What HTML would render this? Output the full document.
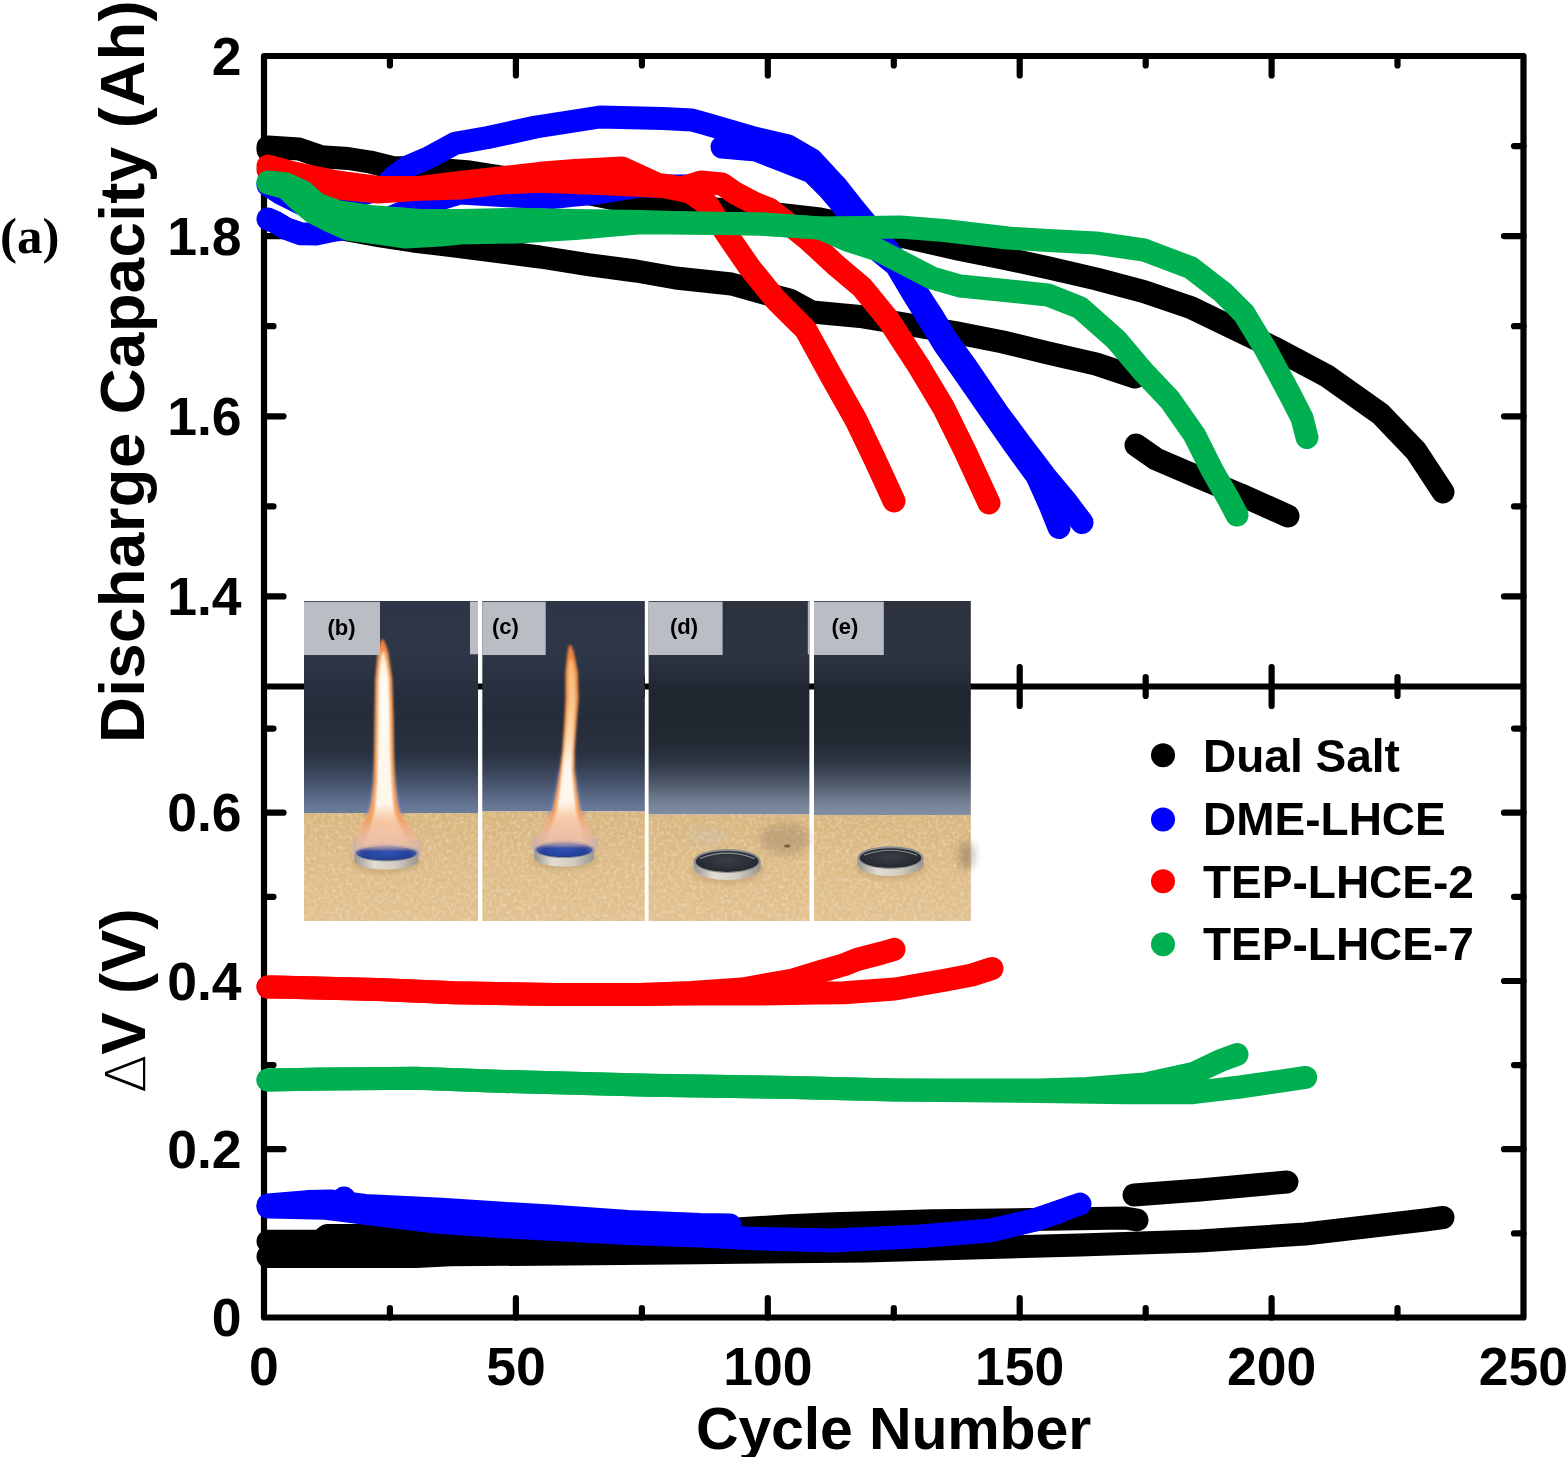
<!DOCTYPE html>
<html><head><meta charset="utf-8"><title>Discharge capacity and voltage hysteresis</title>
<style>
html,body{margin:0;padding:0;background:#fff;}
body{width:1567px;height:1457px;overflow:hidden;}
svg{display:block;}
.t{font-family:"Liberation Sans",Arial,sans-serif;font-weight:700;fill:#000;}
</style></head><body>
<svg width="1567" height="1457" viewBox="0 0 1567 1457">
<rect width="1567" height="1457" fill="#fff"/>

<rect x="264" y="56" width="1259.5" height="1261.5" fill="none" stroke="#000" stroke-width="6.2" stroke-linejoin="round"/>
<line x1="264" y1="686.5" x2="1523.5" y2="686.5" stroke="#000" stroke-width="6.2"/>
<path d="M389.9,1317.5v-9.5M389.9,56v9.5M389.9,677.0V696.0M515.9,1317.5v-19.5M515.9,56v19.5M515.9,667.0V706.0M641.9,1317.5v-9.5M641.9,56v9.5M641.9,677.0V696.0M767.8,1317.5v-19.5M767.8,56v19.5M767.8,667.0V706.0M893.8,1317.5v-9.5M893.8,56v9.5M893.8,677.0V696.0M1019.7,1317.5v-19.5M1019.7,56v19.5M1019.7,667.0V706.0M1145.7,1317.5v-9.5M1145.7,56v9.5M1145.7,677.0V696.0M1271.6,1317.5v-19.5M1271.6,56v19.5M1271.6,667.0V706.0M1397.5,1317.5v-9.5M1397.5,56v9.5M1397.5,677.0V696.0M264,146.1h9.5M1523.5,146.1h-9.5M264,236.1h19.5M1523.5,236.1h-19.5M264,326.2h9.5M1523.5,326.2h-9.5M264,416.3h19.5M1523.5,416.3h-19.5M264,506.4h9.5M1523.5,506.4h-9.5M264,596.4h19.5M1523.5,596.4h-19.5M264,1233.4h9.5M1523.5,1233.4h-9.5M264,1149.2h19.5M1523.5,1149.2h-19.5M264,1065.1h9.5M1523.5,1065.1h-9.5M264,981.0h19.5M1523.5,981.0h-19.5M264,896.8h9.5M1523.5,896.8h-9.5M264,812.7h19.5M1523.5,812.7h-19.5M264,728.6h9.5M1523.5,728.6h-9.5" stroke="#000" stroke-width="6.2" stroke-linecap="round" fill="none"/>
<g fill="none" stroke="#000000" stroke-width="23" stroke-linecap="round" stroke-linejoin="round">
<polyline points="268.0,147.0 299.0,149.0 321.0,156.7 348.0,158.5 370.0,162.0 392.0,167.5 420.0,168.0 445.0,170.0 470.0,172.0 520.0,180.0 580.0,192.0 640.0,204.0 700.0,208.0 760.0,212.0 820.0,219.0 860.0,227.0 905.0,237.0 960.0,249.5 1000.0,257.4 1048.0,267.7 1096.0,278.9 1144.0,291.7 1191.0,307.7 1220.0,321.6 1273.5,347.5 1327.0,376.0 1380.6,414.0 1416.0,451.0 1443.0,492.0"/>
<polyline points="268.0,150.0 290.0,180.0 318.0,212.0 345.0,229.5 380.0,236.0 413.0,241.0 455.0,246.0 540.0,257.0 588.0,264.6 636.0,271.0 675.6,278.0 731.4,284.0 771.0,295.0 790.0,300.0 812.0,312.0 860.0,316.5 907.6,324.5 955.0,332.5 1003.0,342.0 1048.0,353.0 1096.0,364.0 1135.0,377.0"/>
<polyline points="1136.0,445.0 1156.0,459.0 1198.0,477.0 1240.0,494.5 1288.0,516.0"/>
<polyline points="268.0,1256.5 416.0,1256.5 450.0,1254.7 540.0,1254.2 675.0,1253.0 866.0,1251.0 990.0,1247.5 1080.0,1245.0 1140.0,1243.0 1200.0,1241.0 1245.0,1238.0 1305.0,1234.0 1365.0,1227.0 1425.0,1220.0 1443.0,1217.5"/>
<polyline points="268.0,1241.3 320.0,1241.3 327.0,1235.5 400.0,1235.5 412.0,1242.0 500.0,1238.0 600.0,1234.0 700.0,1230.0 740.0,1228.7 789.5,1225.8 833.6,1223.8 933.0,1220.8 1000.0,1220.0 1125.0,1218.0 1137.0,1220.0"/>
<polyline points="1134.0,1195.0 1200.0,1190.0 1287.0,1182.0"/>
</g>
<g fill="none" stroke="#0000ff" stroke-width="23" stroke-linecap="round" stroke-linejoin="round">
<polyline points="268.0,185.0 280.0,193.0 301.0,203.5 322.0,205.0 345.0,198.0 370.0,192.0 385.0,186.0 395.0,176.0 408.0,166.5 428.0,158.0 455.0,143.4 488.0,137.5 536.0,127.0 600.0,117.0 663.0,118.6 692.0,120.0 708.0,124.5 756.0,138.5 788.0,146.0 812.0,160.0 836.0,186.0 851.0,205.0 875.0,234.0 896.0,260.0 914.0,288.0 933.0,317.0 946.0,339.0 965.0,365.0 997.0,412.0 1020.0,443.0 1045.0,476.0 1065.0,500.0 1082.0,522.5"/>
<polyline points="268.0,219.0 276.0,222.5 286.0,228.5 301.0,233.8 316.0,234.0 335.0,230.0 350.0,228.0 375.0,224.0 420.0,205.0 460.0,193.0 517.0,196.3 552.0,197.5 575.0,195.0 598.0,193.0 640.0,186.0 690.0,186.0"/>
<polyline points="722.0,147.0 756.0,150.0 788.0,162.5 812.0,172.0 828.0,188.0 840.0,202.0 860.0,228.0 880.0,252.0 896.0,265.0 912.0,292.0 930.0,321.0 944.0,344.0 961.0,368.0 990.0,410.0 1013.0,443.0 1037.0,476.0 1050.0,505.0 1059.0,527.5"/>
<polyline points="268.0,1207.0 326.0,1208.3 403.0,1218.0 441.5,1222.6 499.0,1226.5 550.0,1229.3 628.0,1233.6 700.0,1236.0 760.0,1239.0 833.0,1241.0 921.0,1236.5 990.0,1231.0 1035.0,1219.8 1080.0,1204.0"/>
<polyline points="268.0,1205.0 307.0,1201.6 330.0,1201.0 365.0,1205.5 441.5,1209.3 499.0,1213.0 550.0,1216.0 628.0,1221.5 700.0,1224.5 730.0,1225.0"/>
<polyline points="742.0,1238.0 833.0,1240.0 921.0,1236.0 990.0,1230.0 1035.0,1220.0 1059.0,1212.0"/>
</g>
<circle cx="344" cy="1198" r="11.5" fill="#0000ff"/>
<g fill="none" stroke="#ff0000" stroke-width="23" stroke-linecap="round" stroke-linejoin="round">
<polyline points="268.0,170.0 300.0,180.0 337.0,188.0 378.0,192.0 420.0,189.3 460.0,188.0 500.0,183.0 540.0,181.3 600.0,183.5 663.0,186.5 690.0,192.0 707.0,204.0 729.0,237.5 750.0,268.0 776.0,300.0 805.5,329.3 831.0,375.6 856.0,420.0 875.0,459.6 894.0,501.0"/>
<polyline points="268.0,166.0 296.0,173.5 337.0,182.0 378.0,187.5 420.0,187.5 460.0,182.5 504.0,177.5 540.0,173.3 575.0,170.5 622.0,168.0 658.0,184.5 682.0,188.0 701.0,182.0 722.0,184.0 735.0,193.0 754.0,203.0 770.0,209.5 790.0,225.0 808.7,240.0 836.5,265.8 862.0,287.2 888.5,319.8 919.6,367.6 943.5,407.5 965.0,451.0 989.0,503.0"/>
<polyline points="268.0,987.0 275.0,987.0 378.0,989.5 454.0,992.8 556.0,994.6 640.0,994.6 691.0,992.5 742.0,989.0 793.0,980.0 819.0,972.0 844.0,964.7 857.0,959.5 882.0,953.0 894.0,949.4"/>
<polyline points="268.0,987.0 275.0,987.0 378.0,989.5 454.0,992.8 556.0,994.6 640.0,994.6 700.0,994.0 760.0,994.0 819.0,993.0 844.0,992.8 895.0,989.0 946.0,980.0 972.0,975.0 992.0,968.5"/>
</g>
<g fill="none" stroke="#00b050" stroke-width="23" stroke-linecap="round" stroke-linejoin="round">
<polyline points="268.0,183.0 286.0,188.0 299.0,200.5 312.5,212.0 330.0,221.0 348.0,229.0 378.0,233.0 406.0,237.0 440.0,235.0 460.0,233.0 517.0,232.0 575.0,228.5 640.0,222.7 690.0,223.0 760.0,224.0 820.0,228.0 847.0,240.0 878.0,250.0 909.0,266.0 932.0,278.0 960.0,286.0 1000.0,290.0 1048.0,295.0 1080.0,307.6 1116.0,339.5 1143.0,371.4 1170.0,400.0 1194.5,435.0 1212.0,470.0 1228.0,498.0 1237.0,515.0"/>
<polyline points="268.0,182.0 286.0,184.0 303.5,192.0 317.0,204.0 339.0,212.0 370.0,216.5 420.0,220.5 460.0,220.5 517.0,219.3 575.0,220.5 640.0,221.5 690.0,223.0 760.0,224.0 820.0,228.0 900.0,227.0 944.0,230.5 1008.0,238.0 1048.0,240.6 1096.0,243.0 1144.0,250.0 1191.0,267.8 1223.0,292.5 1244.0,313.5 1265.5,349.0 1289.6,393.8 1302.0,418.0 1307.0,437.5"/>
<polyline points="268.0,1080.0 326.0,1079.0 416.0,1078.3 505.0,1081.5 650.0,1085.3 793.0,1087.4 895.0,1090.0 1040.0,1090.0 1087.0,1088.5 1145.0,1084.0 1193.0,1073.6 1221.5,1060.2 1237.0,1054.5"/>
<polyline points="268.0,1080.0 326.0,1079.0 416.0,1078.3 505.0,1081.5 650.0,1085.3 793.0,1087.4 895.0,1090.0 1040.0,1091.5 1126.0,1092.7 1193.0,1092.7 1240.0,1087.0 1279.0,1081.3 1305.7,1077.4"/>
</g>
<text class="t" x="264.0" y="1385" font-size="53.5" text-anchor="middle">0</text>
<text class="t" x="515.9" y="1385" font-size="53.5" text-anchor="middle">50</text>
<text class="t" x="767.8" y="1385" font-size="53.5" text-anchor="middle">100</text>
<text class="t" x="1019.7" y="1385" font-size="53.5" text-anchor="middle">150</text>
<text class="t" x="1271.6" y="1385" font-size="53.5" text-anchor="middle">200</text>
<text class="t" x="1523.5" y="1385" font-size="53.5" text-anchor="middle">250</text>
<text class="t" x="241.5" y="74.5" font-size="53.5" text-anchor="end">2</text>
<text class="t" x="241.5" y="254.6" font-size="53.5" text-anchor="end">1.8</text>
<text class="t" x="241.5" y="434.8" font-size="53.5" text-anchor="end">1.6</text>
<text class="t" x="241.5" y="614.9" font-size="53.5" text-anchor="end">1.4</text>
<text class="t" x="241.5" y="831.2" font-size="53.5" text-anchor="end">0.6</text>
<text class="t" x="241.5" y="999.5" font-size="53.5" text-anchor="end">0.4</text>
<text class="t" x="241.5" y="1167.7" font-size="53.5" text-anchor="end">0.2</text>
<text class="t" x="241.5" y="1336.0" font-size="53.5" text-anchor="end">0</text>
<text class="t" x="696" y="1449" font-size="59" letter-spacing="-0.15">Cycle Number</text>
<text class="t" transform="translate(144,743) rotate(-90)" font-size="63.5" letter-spacing="0.4">Discharge Capacity (Ah)</text>
<text transform="translate(145,1093) rotate(-90)" font-size="62"><tspan font-family="DejaVu Sans,sans-serif" font-weight="200" font-size="56">&#916;</tspan><tspan class="t" font-size="63.5" letter-spacing="0.4">V (V)</tspan></text>
<text x="0" y="252.7" font-family="Liberation Serif,serif" font-weight="700" font-size="51">(a)</text>
<circle cx="1163" cy="755.2" r="12" fill="#000000"/>
<text class="t" x="1203" y="772" font-size="46">Dual Salt</text>
<circle cx="1163" cy="819.4" r="12" fill="#0000ff"/>
<text class="t" x="1203" y="835" font-size="46">DME-LHCE</text>
<circle cx="1163" cy="881.2" r="12" fill="#ff0000"/>
<text class="t" x="1203" y="898" font-size="46">TEP-LHCE-2</text>
<circle cx="1163" cy="944.3" r="12" fill="#00b050"/>
<text class="t" x="1203" y="960" font-size="46">TEP-LHCE-7</text>
<defs>
<linearGradient id="bg" x1="0" y1="601" x2="0" y2="815" gradientUnits="userSpaceOnUse">
 <stop offset="0" stop-color="#2b323e"/>
 <stop offset="0.25" stop-color="#2d3441"/>
 <stop offset="0.34" stop-color="#272e3a"/>
 <stop offset="0.43" stop-color="#20262f"/>
 <stop offset="0.66" stop-color="#232933"/>
 <stop offset="0.76" stop-color="#303846"/>
 <stop offset="0.84" stop-color="#4b5567"/>
 <stop offset="0.93" stop-color="#6f7b8e"/>
 <stop offset="1" stop-color="#8390a3"/>
</linearGradient>
<linearGradient id="bgA" x1="0" y1="601" x2="0" y2="813" gradientUnits="userSpaceOnUse">
 <stop offset="0" stop-color="#2d3546"/>
 <stop offset="0.25" stop-color="#2e3748"/>
 <stop offset="0.40" stop-color="#283040"/>
 <stop offset="0.55" stop-color="#252c39"/>
 <stop offset="0.72" stop-color="#2a3241"/>
 <stop offset="0.80" stop-color="#384357"/>
 <stop offset="0.88" stop-color="#4c5a74"/>
 <stop offset="0.95" stop-color="#61718f"/>
 <stop offset="1" stop-color="#6d7e9b"/>
</linearGradient>
<linearGradient id="sand" x1="0" y1="812" x2="0" y2="921" gradientUnits="userSpaceOnUse">
 <stop offset="0" stop-color="#d9b57e"/>
 <stop offset="0.5" stop-color="#ddbc88"/>
 <stop offset="1" stop-color="#e1c18f"/>
</linearGradient>
<filter id="tex" x="0" y="0" width="100%" height="100%">
 <feTurbulence type="fractalNoise" baseFrequency="0.28" numOctaves="3" seed="11" result="n"/>
 <feColorMatrix in="n" type="matrix" values="0 0 0 0 1  0 0 0 0 0.96  0 0 0 0 0.88  0 0 0 -2.0 1.15" result="w"/>
 <feComposite in="w" in2="SourceGraphic" operator="in"/>
</filter>
<filter id="blur1" x="-50%" y="-20%" width="200%" height="140%"><feGaussianBlur stdDeviation="1.1"/></filter>
<filter id="blur2" x="-50%" y="-20%" width="200%" height="140%"><feGaussianBlur stdDeviation="2"/></filter>
<filter id="blur4" x="-50%" y="-50%" width="200%" height="200%"><feGaussianBlur stdDeviation="4"/></filter>
<linearGradient id="rim" x1="0" y1="0" x2="1" y2="0">
 <stop offset="0" stop-color="#9a978f"/>
 <stop offset="0.3" stop-color="#e2ddd4"/>
 <stop offset="0.65" stop-color="#d2ccc2"/>
 <stop offset="1" stop-color="#9a968e"/>
</linearGradient>
<radialGradient id="dk" cx="0.5" cy="0.45" r="0.6">
 <stop offset="0" stop-color="#3a3f47"/>
 <stop offset="1" stop-color="#22262c"/>
</radialGradient>
<radialGradient id="bl" cx="0.5" cy="0.5" r="0.6">
 <stop offset="0" stop-color="#2f52b5"/>
 <stop offset="1" stop-color="#1f3a8c"/>
</radialGradient>
</defs>
<g>
<rect x="304.0" y="601.0" width="174.0" height="212.0" fill="url(#bgA)"/>
<rect x="304.0" y="813.0" width="174.0" height="108.0" fill="url(#sand)"/>
<rect x="304.0" y="813.0" width="174.0" height="108.0" fill="#fff" filter="url(#tex)" opacity="0.4"/>
<ellipse cx="386.5" cy="862.8" rx="35.0" ry="10.6" fill="#b89868" opacity="0.45" filter="url(#blur2)"/>
<ellipse cx="386.5" cy="860.8" rx="32.0" ry="8.6" fill="url(#rim)"/>
<rect x="354.5" y="852.8" width="64.0" height="8.0" fill="url(#rim)"/>
<ellipse cx="386.5" cy="852.8" rx="32.0" ry="8.6" fill="#8c8c90"/>
<ellipse cx="386.5" cy="853.2" rx="30.0" ry="7.1" fill="url(#bl)"/>
<linearGradient id="fob" x1="0" y1="639.5" x2="0" y2="850" gradientUnits="userSpaceOnUse"><stop offset="0" stop-color="#f07a3a" stop-opacity="1"/><stop offset="0.08" stop-color="#f39a55" stop-opacity="1"/><stop offset="0.85" stop-color="#f3a060" stop-opacity="1"/><stop offset="0.92" stop-color="#eeb494" stop-opacity="0.85"/><stop offset="1" stop-color="#e6bcb4" stop-opacity="0.45"/></linearGradient>
<linearGradient id="fcb" x1="0" y1="639.5" x2="0" y2="850" gradientUnits="userSpaceOnUse"><stop offset="0" stop-color="#ffd8a8" stop-opacity="1"/><stop offset="0.1" stop-color="#fff0dc" stop-opacity="1"/><stop offset="0.2" stop-color="#fffbf4" stop-opacity="1"/><stop offset="0.78" stop-color="#fff6ea" stop-opacity="1"/><stop offset="0.86" stop-color="#f9cfb0" stop-opacity="0.85"/><stop offset="1" stop-color="#f2c6bc" stop-opacity="0.15"/></linearGradient>
<ellipse cx="356.5" cy="847.8" rx="5" ry="9" fill="#a898d8" opacity="0.35" filter="url(#blur2)"/>
<ellipse cx="416.5" cy="847.8" rx="5" ry="9" fill="#a898d8" opacity="0.35" filter="url(#blur2)"/>
<path d="M375.0,770.0 L393.0,770.0 L397.3,790.0 L400.8,806.0 L404.5,816.0 L364.5,816.0 L367.8,806.0 L371.3,790.0Z" fill="#5a78d0" opacity="0.5" filter="url(#blur2)"/>
<path d="M381.3,639.5 L383.7,639.5 L386.3,646.0 L388.3,653.0 L392.2,679.0 L393.5,718.0 L394.0,757.0 L395.3,783.0 L397.8,803.0 L400.6,813.5 L409.5,826.0 L416.3,838.0 L418.5,850.0 L354.5,850.0 L356.3,838.0 L361.5,826.0 L368.0,813.5 L370.8,803.0 L373.3,783.0 L374.0,757.0 L374.5,718.0 L375.2,679.0 L377.7,653.0 L379.3,646.0Z" fill="url(#fob)" filter="url(#blur1)"/>
<path d="M382.0,652.0 L384.0,652.0 L386.8,664.0 L388.9,679.0 L389.9,718.0 L390.5,757.0 L391.8,783.0 L393.3,803.0 L395.5,815.0 L404.0,835.0 L410.5,848.0 L362.5,848.0 L368.0,835.0 L373.5,815.0 L375.3,803.0 L376.8,783.0 L377.5,757.0 L378.1,718.0 L378.5,679.0 L379.8,664.0Z" fill="url(#fcb)" filter="url(#blur1)"/>
<rect x="304.0" y="601.8" width="76.0" height="53.2" fill="#babdc3"/>
<text x="341.5" y="634.5" font-family="Liberation Sans,Arial,sans-serif" font-weight="700" font-size="22" text-anchor="middle" fill="#000">(b)</text>
</g>
<g>
<rect x="482.3" y="601.0" width="162.5" height="210.5" fill="url(#bgA)"/>
<rect x="482.3" y="811.5" width="162.5" height="109.5" fill="url(#sand)"/>
<rect x="482.3" y="811.5" width="162.5" height="109.5" fill="#fff" filter="url(#tex)" opacity="0.4"/>
<ellipse cx="564.3" cy="859.9" rx="33.0" ry="10.7" fill="#b89868" opacity="0.45" filter="url(#blur2)"/>
<ellipse cx="564.3" cy="857.9" rx="30.0" ry="8.7" fill="url(#rim)"/>
<rect x="534.3" y="849.4" width="60.0" height="8.5" fill="url(#rim)"/>
<ellipse cx="564.3" cy="849.4" rx="30.0" ry="8.7" fill="#8c8c90"/>
<ellipse cx="564.3" cy="849.8" rx="28.0" ry="7.2" fill="url(#bl)"/>
<linearGradient id="foc" x1="0" y1="645.2" x2="0" y2="847" gradientUnits="userSpaceOnUse"><stop offset="0" stop-color="#ee7a3c" stop-opacity="1"/><stop offset="0.1" stop-color="#f29048" stop-opacity="1"/><stop offset="0.83" stop-color="#f3a060" stop-opacity="1"/><stop offset="0.9" stop-color="#eeb494" stop-opacity="0.85"/><stop offset="1" stop-color="#e6bcb4" stop-opacity="0.45"/></linearGradient>
<linearGradient id="fcc" x1="0" y1="645.2" x2="0" y2="847" gradientUnits="userSpaceOnUse"><stop offset="0" stop-color="#f7b878" stop-opacity="1"/><stop offset="0.3" stop-color="#f9c88e" stop-opacity="1"/><stop offset="0.5" stop-color="#fde2c0" stop-opacity="1"/><stop offset="0.6" stop-color="#fff7ee" stop-opacity="1"/><stop offset="0.78" stop-color="#fff6ea" stop-opacity="1"/><stop offset="0.86" stop-color="#f9cfb0" stop-opacity="0.85"/><stop offset="1" stop-color="#f2c6bc" stop-opacity="0.15"/></linearGradient>
<ellipse cx="536.3" cy="844.4" rx="5" ry="9" fill="#a898d8" opacity="0.35" filter="url(#blur2)"/>
<ellipse cx="592.3" cy="844.4" rx="5" ry="9" fill="#a898d8" opacity="0.35" filter="url(#blur2)"/>
<path d="M559.0,770.0 L575.0,770.0 L578.8,790.0 L581.9,806.0 L585.0,816.0 L547.0,816.0 L550.9,806.0 L554.8,790.0Z" fill="#5a78d0" opacity="0.5" filter="url(#blur2)"/>
<path d="M569.0,645.2 L571.4,645.2 L574.0,653.0 L577.8,672.6 L578.5,698.7 L576.5,724.8 L574.6,750.9 L574.6,770.4 L577.2,790.0 L580.4,809.6 L586.0,822.0 L591.0,835.0 L593.5,847.0 L535.5,847.0 L539.0,835.0 L546.0,822.0 L552.4,809.6 L556.4,790.0 L559.6,770.4 L562.2,750.9 L564.1,724.8 L565.5,698.7 L565.4,672.6 L567.4,653.0Z" fill="url(#foc)" filter="url(#blur1)"/>
<path d="M569.6,660.0 L572.0,660.0 L574.7,675.0 L575.4,700.0 L573.9,725.0 L572.6,751.0 L572.1,770.0 L574.0,790.0 L575.9,809.0 L580.0,825.0 L585.5,845.0 L543.5,845.0 L552.0,825.0 L556.9,809.0 L559.6,790.0 L562.1,770.0 L564.2,751.0 L566.7,725.0 L568.2,700.0 L568.3,675.0Z" fill="url(#fcc)" filter="url(#blur1)"/>
<rect x="482.3" y="601.8" width="63.4" height="53.2" fill="#babdc3"/>
<text x="505.5" y="633.5" font-family="Liberation Sans,Arial,sans-serif" font-weight="700" font-size="22" text-anchor="middle" fill="#000">(c)</text>
</g>
<g>
<rect x="648.6" y="601.0" width="160.8" height="213.6" fill="url(#bg)"/>
<rect x="648.6" y="814.6" width="160.8" height="106.4" fill="url(#sand)"/>
<rect x="648.6" y="814.6" width="160.8" height="106.4" fill="#fff" filter="url(#tex)" opacity="0.4"/>
<ellipse cx="785.2" cy="839.0" rx="26" ry="16" fill="#7a6a55" opacity="0.28" filter="url(#blur4)"/>
<ellipse cx="787.2" cy="846.0" rx="3" ry="1.5" fill="#6a4030" opacity="0.8"/>
<ellipse cx="707.2" cy="836.0" rx="20" ry="10" fill="#c8c0b0" opacity="0.35" filter="url(#blur4)"/>
<ellipse cx="727.2" cy="870.0" rx="36.4" ry="14.0" fill="#b89868" opacity="0.45" filter="url(#blur2)"/>
<ellipse cx="727.2" cy="868.0" rx="33.4" ry="12.0" fill="url(#rim)"/>
<rect x="693.8" y="861.0" width="66.8" height="7.0" fill="url(#rim)"/>
<ellipse cx="727.2" cy="861.0" rx="33.4" ry="12.0" fill="#8c8c90"/>
<ellipse cx="727.2" cy="861.4" rx="31.4" ry="10.5" fill="url(#dk)"/>
<path d="M699.8,858.6 Q727.2,847.8 754.6,858.6" stroke="#b0b4ba" stroke-width="1.2" fill="none" opacity="0.7"/>
<rect x="648.6" y="601.8" width="74.0" height="53.2" fill="#babdc3"/>
<text x="684.0" y="633.5" font-family="Liberation Sans,Arial,sans-serif" font-weight="700" font-size="22" text-anchor="middle" fill="#000">(d)</text>
</g>
<g>
<rect x="814.0" y="601.0" width="156.8" height="214.0" fill="url(#bg)"/>
<rect x="814.0" y="815.0" width="156.8" height="106.0" fill="url(#sand)"/>
<rect x="814.0" y="815.0" width="156.8" height="106.0" fill="#fff" filter="url(#tex)" opacity="0.4"/>
<ellipse cx="966.8" cy="855.6" rx="8" ry="14" fill="#6a5a48" opacity="0.4" filter="url(#blur4)"/>
<ellipse cx="890.5" cy="866.6" rx="35.8" ry="13.3" fill="#b89868" opacity="0.45" filter="url(#blur2)"/>
<ellipse cx="890.5" cy="864.6" rx="32.8" ry="11.3" fill="url(#rim)"/>
<rect x="857.7" y="857.6" width="65.6" height="7.0" fill="url(#rim)"/>
<ellipse cx="890.5" cy="857.6" rx="32.8" ry="11.3" fill="#8c8c90"/>
<ellipse cx="890.5" cy="858.0" rx="30.8" ry="9.8" fill="url(#dk)"/>
<path d="M863.7,855.3 Q890.5,845.2 917.3,855.3" stroke="#b0b4ba" stroke-width="1.2" fill="none" opacity="0.7"/>
<rect x="814.0" y="601.8" width="69.8" height="53.2" fill="#babdc3"/>
<text x="845.0" y="633.5" font-family="Liberation Sans,Arial,sans-serif" font-weight="700" font-size="22" text-anchor="middle" fill="#000">(e)</text>
</g>
<rect x="470" y="601.5" width="8" height="52.8" fill="#babdc3"/>
<rect x="807.8" y="601.5" width="1.8" height="52.8" fill="#babdc3"/>
</svg></body></html>
